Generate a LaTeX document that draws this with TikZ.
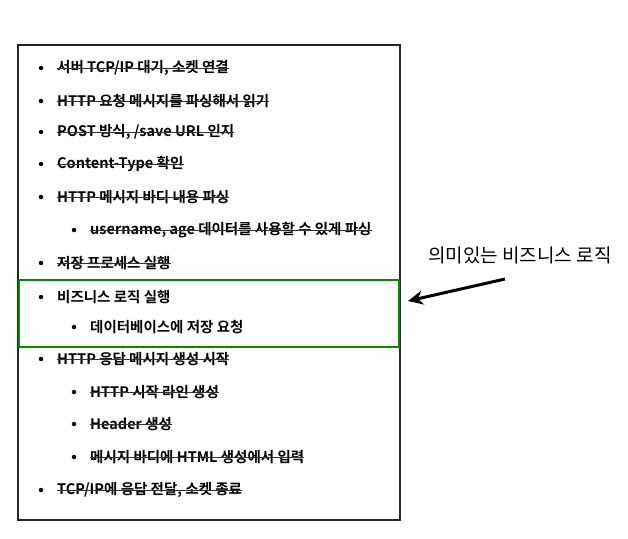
\documentclass[tikz,border=0pt]{standalone}
\usepackage{fontspec}
\usetikzlibrary{arrows.meta}
\setmainfont{Noto Sans CJK KR}
\newfontfamily\kb{Noto Sans CJK KR Bold}
\begin{document}
\begin{tikzpicture}[x=1pt,y=-1pt,
  item/.style={anchor=west,inner sep=0pt,font=\kb\fontsize{14.5}{16}\selectfont},
  dot/.style={circle,fill=black,inner sep=0pt,minimum size=4.5pt},
  strike/.style={draw=black!80,line width=1.1pt}]
\useasboundingbox (0,0) rectangle (628,538);
\draw[line width=2.2pt,black!85] (18,45) rectangle (400,520);
\foreach \y/\lv/\t/\s [count=\i] in {
 68/1/{서버 TCP/IP 대기, 소켓 연결}/1,
 101/1/{HTTP 요청 메시지를 파싱해서 읽기}/1,
 132/1/{POST 방식, /save URL 인지}/1,
 164/1/{Content-Type 확인}/1,
 197/1/{HTTP 메시지 바디 내용 파싱}/1,
 230/2/{username, age 데이터를 사용할 수 있게 파싱}/1,
 263/1/{저장 프로세스 실행}/1,
 297/1/{비즈니스 로직 실행}/0,
 327/2/{데이터베이스에 저장 요청}/0,
 359/1/{HTTP 응답 메시지 생성 시작}/1,
 392/2/{HTTP 시작 라인 생성}/1,
 424/2/{Header 생성}/1,
 457/2/{메시지 바디에 HTML 생성에서 입력}/1,
 490/1/{TCP/IP에 응답 전달, 소켓 종료}/1}
{
  \pgfmathsetmacro{\bx}{\lv==1 ? 41 : 74}
  \pgfmathsetmacro{\tx}{\lv==1 ? 57 : 90}
  \node[dot] (b\i) at (\bx,\y) {};
  \node[item] (t\i) at (\tx,\y) {\t};
  \ifnum\s=1 \draw[strike] ([yshift=-0.5pt]t\i.west) -- ([yshift=-0.5pt]t\i.east); \fi
}
\draw[green!55!black,line width=2.2pt] (19,280) rectangle (399,347);
\node[anchor=west,inner sep=0pt,font=\fontsize{19}{21}\selectfont] (lab) at (428,255) {의미있는 비즈니스 로직};
\coordinate (as) at (505,279);
\coordinate (ae) at (408,301);
\draw[line width=3pt,-{Stealth[length=15pt,width=14pt]}] (as) -- (ae);
\end{tikzpicture}
\end{document}
